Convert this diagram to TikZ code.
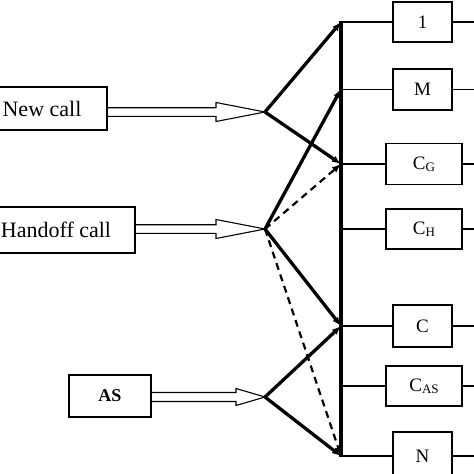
\documentclass[tikz,border=0pt]{standalone}
\usepackage{fontspec}
\setmainfont{Liberation Serif}
\usetikzlibrary{arrows.meta,calc}
\newcommand\subsz[1]{\raisebox{-2pt}{\fontsize{13}{13}\selectfont #1}}
\begin{document}
\begin{tikzpicture}[x=1pt,y=-1pt,
  box/.style={draw,line width=1.2pt,inner sep=0pt,font=\fontsize{19}{21}\selectfont},
  bigbox/.style={draw,line width=1.2pt,inner sep=0pt,font=\fontsize{22}{26}\selectfont},
  branch/.style={line width=1.2pt},
  mainbranch/.style={line width=2.8pt},
  fanline/.style={line width=3.3pt,-{Latex[length=9pt,width=7pt]}},
  fandash/.style={line width=2.2pt,dash pattern=on 7pt off 5pt,-{Latex[length=9pt,width=7pt]}},
  hollow/.style={line width=1.1pt,line join=miter},
  bus/.style={line width=3.3pt}]
\useasboundingbox (0,0) rectangle (474,474);
% left boxes
\node[bigbox,minimum width=130pt,minimum height=43pt] (nc) at (42,108.5) {New call};
\node[bigbox,minimum width=158pt,minimum height=46pt] (hc) at (56,230) {Handoff call};
\node[box,minimum width=82pt,minimum height=42pt,font=\fontsize{18}{20}\selectfont\bfseries] (as) at (110,396) {AS};
% apexes
\coordinate (pN) at (265,112);
\coordinate (pH) at (265,229);
\coordinate (pA) at (265,397);
% hollow arrows
\draw[hollow] ($(nc.east |- pN)+(0,-4.3)$) -- ($(pN)+(-49,-4.3)$) -- ($(pN)+(-49,-9.5)$) -- (pN)
  -- ($(pN)+(-49,9.5)$) -- ($(pN)+(-49,4.3)$) -- ($(nc.east |- pN)+(0,4.3)$);
\draw[hollow] ($(hc.east |- pH)+(0,-4.3)$) -- ($(pH)+(-49,-4.3)$) -- ($(pH)+(-49,-9.5)$) -- (pH)
  -- ($(pH)+(-49,9.5)$) -- ($(pH)+(-49,4.3)$) -- ($(hc.east |- pH)+(0,4.3)$);
\draw[hollow] ($(as.east |- pA)+(0,-4.5)$) -- ($(pA)+(-29,-4.5)$) -- ($(pA)+(-29,-8.5)$) -- (pA)
  -- ($(pA)+(-29,8.5)$) -- ($(pA)+(-29,4.5)$) -- ($(as.east |- pA)+(0,4.5)$);
% bus junctions
\coordinate (j1) at (341,22);
\coordinate (jM) at (341,89);
\coordinate (jG) at (341,164);
\coordinate (jH) at (341,229);
\coordinate (jC) at (341,326);
\coordinate (jAS) at (341,388);
\coordinate (jN) at (341,456);
\draw[bus] ($(j1)+(0,-1.4)$) -- ($(jN)+(0,1.4)$);
% right boxes
\node[box,minimum width=59pt,minimum height=40pt] (b1) at (422.5,22) {1};
\node[box,minimum width=59pt,minimum height=41pt] (bM) at (422.5,89.5) {M};
\node[box,minimum width=76pt,minimum height=41pt] (bG) at (424,164) {C\subsz{G}};
\node[box,minimum width=76pt,minimum height=40pt] (bH) at (424,229) {C\subsz{H}};
\node[box,minimum width=59pt,minimum height=42pt] (bC) at (422.5,326) {C};
\node[box,minimum width=76pt,minimum height=40pt] (bAS) at (424,386) {C\subsz{AS}};
\node[box,minimum width=59pt,minimum height=48pt] (bN) at (422.5,456) {N};
% right end coordinates
\coordinate (e1) at (474,22);
\coordinate (eM) at (474,89.5);
\coordinate (eG) at (474,164);
\coordinate (eH) at (474,229);
\coordinate (eC) at (474,326);
\coordinate (eAS) at (474,386);
\coordinate (eN) at (474,456);
% branches
\draw[mainbranch] (j1) -- (b1.west); \draw[mainbranch] (b1.east) -- (e1);
\draw[branch] (jM |- bM.west) -- (bM.west); \draw[branch] (bM.east) -- (eM);
\draw[mainbranch] (jG) -- (bG.west); \draw[mainbranch] (bG.east) -- (eG);
\draw[branch] (jH) -- (bH.west); \draw[branch] (bH.east) -- (eH);
\draw[mainbranch] (jC) -- (bC.west); \draw[mainbranch] (bC.east) -- (eC);
\draw[branch] (jAS |- bAS.west) -- (bAS.west); \draw[branch] (bAS.east) -- (eAS);
\draw[mainbranch] (jN) -- (bN.west); \draw[mainbranch] (bN.east) -- (eN);
% fan lines
\draw[fanline] (pN) -- (j1);
\draw[fanline] (pN) -- (jG);
\draw[fanline] (pH) -- (jM);
\draw[fandash] (pH) -- (jG);
\draw[fanline] (pH) -- (jC);
\draw[fandash] (pH) -- (jN);
\draw[fanline] (pA) -- (jC);
\draw[fanline] (pA) -- (jN);
\end{tikzpicture}
\end{document}
